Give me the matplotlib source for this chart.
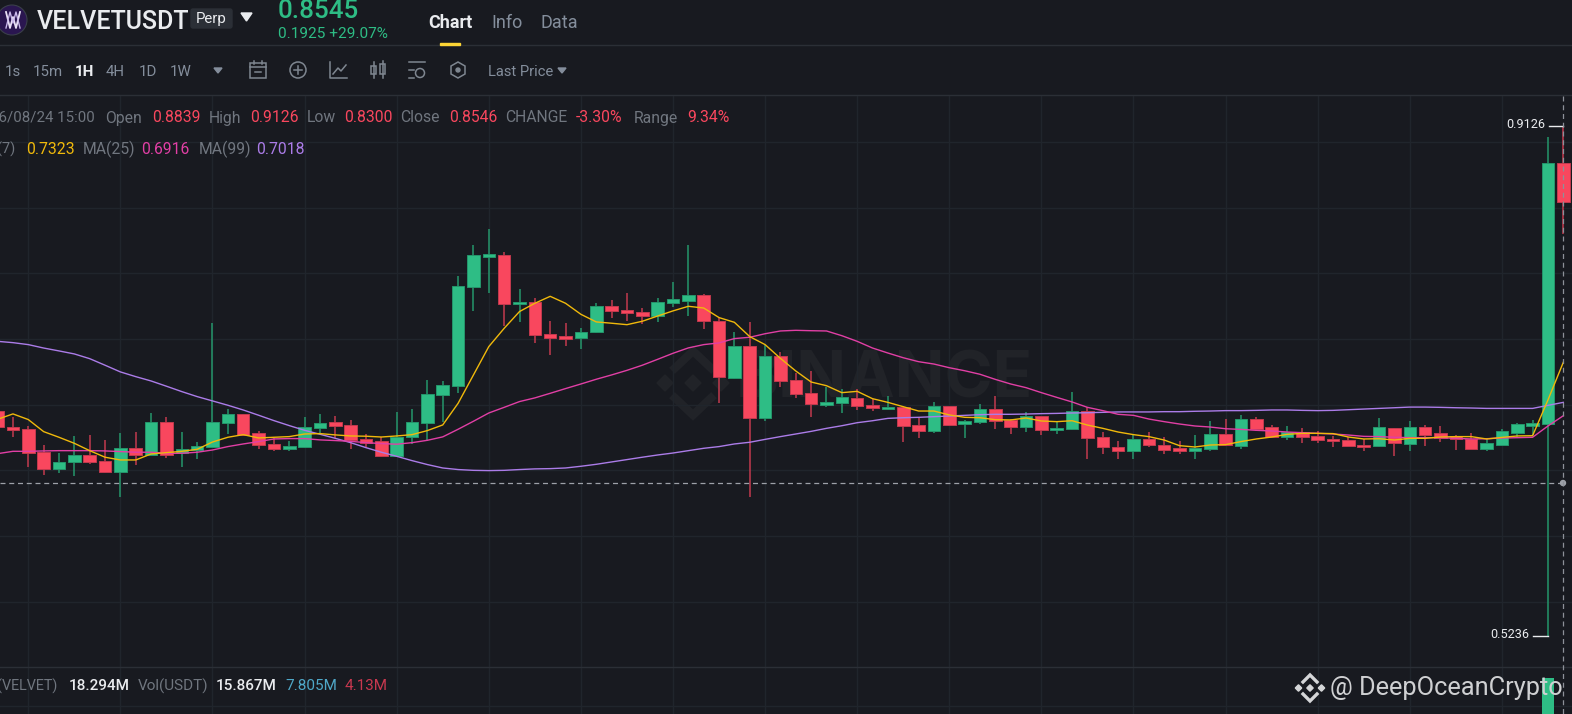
import matplotlib
matplotlib.use("Agg")
import matplotlib.pyplot as plt
import numpy as np
from matplotlib.patches import Circle, FancyBboxPatch, Polygon, Rectangle

plt.rcParams['font.family'] = ['Roboto', 'DejaVu Sans']

# candles (1H, oldest on the left)
directions = ("ddddrrddrd" "rdrrrrdddr" "rrddddrrrr" "rrrdrdddrr" "dddrrrddrd"
              "rdddrrddrd" "drdrrddrdr" "rdddrdddrr" "drddrddddd" "rdrddddrrr" "rrd")
highs = [0.6975, 0.6909, 0.6838, 0.6691, 0.6634, 0.6762, 0.6772, 0.6729, 0.6785, 0.6792,
         0.6937, 0.6904, 0.6790, 0.6716, 0.7620, 0.6965, 0.6927, 0.6802, 0.6744, 0.6721,
         0.6906, 0.6929, 0.6914, 0.6884, 0.6777, 0.6756, 0.6945, 0.6965, 0.7188, 0.7178,
         0.7981, 0.8219, 0.8339, 0.8164, 0.7880, 0.7816, 0.7636, 0.7623, 0.7582, 0.7773,
         0.7798, 0.7851, 0.7735, 0.7816, 0.7935, 0.8217, 0.7841, 0.7659, 0.7552, 0.7628,
         0.7453, 0.7404, 0.7244, 0.7257, 0.7137, 0.7117, 0.7117, 0.7041, 0.7066, 0.6990,
         0.6901, 0.7018, 0.6990, 0.6884, 0.7008, 0.7066, 0.6894, 0.6942, 0.6914, 0.6868,
         0.7095, 0.6980, 0.6790, 0.6724, 0.6767, 0.6795, 0.6752, 0.6721, 0.6767, 0.6876,
         0.6889, 0.6919, 0.6906, 0.6848, 0.6838, 0.6823, 0.6797, 0.6762, 0.6756, 0.6739,
         0.6899, 0.6823, 0.6876, 0.6846, 0.6838, 0.6772, 0.6782, 0.6739, 0.6817, 0.6858,
         0.6884, 0.9040, 0.9126]
body_top = [0.6955, 0.6830, 0.6813, 0.6637, 0.6566, 0.6615, 0.6615, 0.6569, 0.6668, 0.6668,
            0.6871, 0.6871, 0.6660, 0.6685, 0.6868, 0.6927, 0.6927, 0.6782, 0.6701, 0.6688,
            0.6830, 0.6863, 0.6868, 0.6846, 0.6737, 0.6721, 0.6756, 0.6871, 0.7082, 0.7150,
            0.7907, 0.8139, 0.8149, 0.8141, 0.7785, 0.7783, 0.7537, 0.7521, 0.7556, 0.7752,
            0.7752, 0.7720, 0.7707, 0.7783, 0.7803, 0.7834, 0.7834, 0.7638, 0.7447, 0.7447,
            0.7371, 0.7369, 0.7188, 0.7092, 0.7023, 0.7057, 0.7054, 0.7000, 0.6983, 0.6983,
            0.6848, 0.6990, 0.6988, 0.6876, 0.6965, 0.6965, 0.6881, 0.6912, 0.6912, 0.6825,
            0.6950, 0.6950, 0.6756, 0.6680, 0.6737, 0.6739, 0.6695, 0.6668, 0.6670, 0.6779,
            0.6777, 0.6894, 0.6894, 0.6828, 0.6795, 0.6792, 0.6762, 0.6741, 0.6731, 0.6695,
            0.6828, 0.6823, 0.6833, 0.6830, 0.6782, 0.6759, 0.6739, 0.6708, 0.6797, 0.6855,
            0.6858, 0.8839, 0.8839]
body_bot = [0.6828, 0.6805, 0.6630, 0.6513, 0.6513, 0.6561, 0.6561, 0.6485, 0.6485, 0.6619,
            0.6619, 0.6619, 0.6630, 0.6655, 0.6680, 0.6861, 0.6772, 0.6695, 0.6665, 0.6665,
            0.6680, 0.6825, 0.6836, 0.6729, 0.6708, 0.6607, 0.6609, 0.6752, 0.6863, 0.7074,
            0.7145, 0.7897, 0.8128, 0.7768, 0.7765, 0.7534, 0.7511, 0.7501, 0.7511, 0.7552,
            0.7712, 0.7699, 0.7676, 0.7674, 0.7777, 0.7790, 0.7636, 0.7209, 0.7206, 0.6896,
            0.6899, 0.7181, 0.7082, 0.7003, 0.7000, 0.7013, 0.6990, 0.6973, 0.6965, 0.6840,
            0.6797, 0.6797, 0.6848, 0.6853, 0.6871, 0.6874, 0.6828, 0.6828, 0.6810, 0.6805,
            0.6813, 0.6749, 0.6676, 0.6647, 0.6647, 0.6693, 0.6655, 0.6647, 0.6650, 0.6663,
            0.6691, 0.6688, 0.6817, 0.6754, 0.6754, 0.6752, 0.6729, 0.6724, 0.6688, 0.6678,
            0.6683, 0.6708, 0.6703, 0.6769, 0.6749, 0.6739, 0.6663, 0.6665, 0.6695, 0.6784,
            0.6840, 0.6853, 0.8546]
lows = [0.6807, 0.6756, 0.6528, 0.6467, 0.6482, 0.6459, 0.6551, 0.6482, 0.6294, 0.6543,
        0.6617, 0.6592, 0.6528, 0.6586, 0.6678, 0.6777, 0.6769, 0.6665, 0.6650, 0.6650,
        0.6673, 0.6782, 0.6744, 0.6665, 0.6676, 0.6604, 0.6609, 0.6698, 0.6726, 0.6866,
        0.7092, 0.7717, 0.7854, 0.7600, 0.7633, 0.7468, 0.7377, 0.7447, 0.7427, 0.7544,
        0.7663, 0.7636, 0.7615, 0.7633, 0.7747, 0.7674, 0.7579, 0.7013, 0.7198, 0.6299,
        0.6878, 0.7133, 0.7054, 0.6904, 0.6983, 0.6937, 0.6960, 0.6952, 0.6960, 0.6714,
        0.6746, 0.6785, 0.6838, 0.6744, 0.6855, 0.6815, 0.6779, 0.6795, 0.6772, 0.6779,
        0.6810, 0.6584, 0.6622, 0.6584, 0.6589, 0.6676, 0.6627, 0.6625, 0.6589, 0.6650,
        0.6688, 0.6665, 0.6802, 0.6752, 0.6731, 0.6711, 0.6711, 0.6680, 0.6683, 0.6650,
        0.6680, 0.6607, 0.6650, 0.6688, 0.6718, 0.6655, 0.6660, 0.6650, 0.6688, 0.6756,
        0.6769, 0.5236, 0.8300]

# moving averages at the same candles
ma7 = [0.6889, 0.6930, 0.6887, 0.6795, 0.6752, 0.6706, 0.6650, 0.6600, 0.6579, 0.6579,
       0.6625, 0.6635, 0.6645, 0.6660, 0.6716, 0.6752, 0.6772, 0.6747, 0.6752, 0.6757,
       0.6777, 0.6780, 0.6770, 0.6762, 0.6760, 0.6754, 0.6762, 0.6772, 0.6803, 0.6846,
       0.7011, 0.7227, 0.7443, 0.7582, 0.7710, 0.7773, 0.7826, 0.7773, 0.7689, 0.7631,
       0.7621, 0.7610, 0.7636, 0.7676, 0.7715, 0.7750, 0.7737, 0.7664, 0.7628, 0.7519,
       0.7458, 0.7353, 0.7257, 0.7173, 0.7145, 0.7092, 0.7102, 0.7046, 0.7018, 0.6985,
       0.6952, 0.6952, 0.6922, 0.6904, 0.6901, 0.6886, 0.6884, 0.6899, 0.6876, 0.6871,
       0.6878, 0.6845, 0.6820, 0.6792, 0.6772, 0.6757, 0.6731, 0.6688, 0.6678, 0.6693,
       0.6696, 0.6719, 0.6739, 0.6754, 0.6774, 0.6782, 0.6782, 0.6780, 0.6754, 0.6739,
       0.6741, 0.6731, 0.6744, 0.6744, 0.6754, 0.6757, 0.6757, 0.6739, 0.6751, 0.6762,
       0.6764, 0.7036, 0.7323]
ma25 = [0.6627, 0.6645, 0.6645, 0.6648, 0.6650, 0.6650, 0.6650, 0.6648, 0.6643, 0.6638,
        0.6638, 0.6630, 0.6630, 0.6638, 0.6655, 0.6681, 0.6701, 0.6719, 0.6739, 0.6742,
        0.6742, 0.6732, 0.6727, 0.6721, 0.6711, 0.6704, 0.6699, 0.6711, 0.6729, 0.6755,
        0.6813, 0.6874, 0.6937, 0.6980, 0.7024, 0.7052, 0.7087, 0.7123, 0.7158, 0.7194,
        0.7227, 0.7262, 0.7301, 0.7346, 0.7392, 0.7433, 0.7458, 0.7471, 0.7504, 0.7514,
        0.7541, 0.7562, 0.7567, 0.7564, 0.7562, 0.7526, 0.7483, 0.7432, 0.7394, 0.7358,
        0.7328, 0.7310, 0.7282, 0.7259, 0.7232, 0.7193, 0.7158, 0.7130, 0.7092, 0.7056,
        0.7021, 0.6980, 0.6955, 0.6927, 0.6919, 0.6891, 0.6871, 0.6853, 0.6838, 0.6830,
        0.6817, 0.6812, 0.6805, 0.6800, 0.6792, 0.6787, 0.6782, 0.6777, 0.6769, 0.6759,
        0.6757, 0.6752, 0.6749, 0.6749, 0.6749, 0.6744, 0.6739, 0.6741, 0.6746, 0.6749,
        0.6752, 0.6838, 0.6916]
ma99 = [0.7483, 0.7473, 0.7458, 0.7432, 0.7410, 0.7387, 0.7351, 0.7301, 0.7250, 0.7214,
        0.7181, 0.7141, 0.7100, 0.7062, 0.7029, 0.6996, 0.6960, 0.6920, 0.6879, 0.6841,
        0.6805, 0.6775, 0.6744, 0.6711, 0.6673, 0.6638, 0.6607, 0.6574, 0.6544, 0.6518,
        0.6506, 0.6500, 0.6498, 0.6500, 0.6506, 0.6511, 0.6513, 0.6518, 0.6531, 0.6546,
        0.6564, 0.6582, 0.6600, 0.6617, 0.6632, 0.6650, 0.6668, 0.6681, 0.6701, 0.6714,
        0.6736, 0.6757, 0.6777, 0.6797, 0.6820, 0.6840, 0.6863, 0.6878, 0.6896, 0.6901,
        0.6904, 0.6909, 0.6914, 0.6919, 0.6924, 0.6927, 0.6927, 0.6929, 0.6932, 0.6934,
        0.6937, 0.6939, 0.6942, 0.6945, 0.6945, 0.6945, 0.6947, 0.6947, 0.6950, 0.6952,
        0.6955, 0.6955, 0.6957, 0.6960, 0.6960, 0.6957, 0.6955, 0.6957, 0.6962, 0.6967,
        0.6972, 0.6977, 0.6982, 0.6982, 0.6980, 0.6977, 0.6975, 0.6972, 0.6972, 0.6972,
        0.6972, 0.6995, 0.7018]

price_ticks = [0.55, 0.60, 0.65, 0.70, 0.75, 0.80, 0.85, 0.90]
vol_index = [101, 102]
vol_values = [67.0, 18.294]

BG = '#181a20'
GRID = '#20252c'
EDGE = '#2b2f36'
GREEN = '#2ebd85'
RED = '#f9475e'
GREY = '#70767f'
WHITE = '#eaecef'
YELLOW = '#f0b90b'
PINK = '#e13fa5'
PURPLE = '#ab7ce8'
WM = '#212328'

W, H = 1572, 714
fig = plt.figure(figsize=(W / 100, H / 100), dpi=100, facecolor=BG)

n = len(highs)
idx = np.arange(n)
highs, lows = np.array(highs), np.array(lows)
body_top, body_bot = np.array(body_top), np.array(body_bot)
up = np.array([c == 'r' for c in directions])

# x runs at 15.35 px per candle, the first candle sits just off the left edge
xlim = (2.4 / 15.35, (W + 2.4) / 15.35)
grid_x = idx[2::6]


def style_axes(ax):
    ax.set_facecolor('none')
    ax.set_xlim(*xlim)
    ax.tick_params(length=0, labelleft=False, labelbottom=False)
    ax.set_xticks(grid_x)
    ax.grid(True, color=GRID, lw=1.0, zorder=0)
    ax.set_axisbelow(True)
    for s in ax.spines.values():
        s.set_visible(False)


def pixel_axes(zorder):
    a = fig.add_axes([0, 0, 1, 1], facecolor='none', zorder=zorder)
    a.set_xlim(0, W)
    a.set_ylim(H, 0)
    a.axis('off')
    return a


# exchange watermark sits behind the candles
back = pixel_axes(0)
back.text(736, 381, 'BINANCE', color=WM, fontsize=47, fontweight='bold', family='Inter',
          ha='left', va='center')
for cx, cy, r in [(665, 383, 8), (721, 383, 8), (693, 383, 8)]:
    back.add_patch(Polygon([(cx - r, cy), (cx, cy - r), (cx + r, cy), (cx, cy + r)], color=WM))
back.plot([675, 693, 711], [368, 351, 368], color=WM, lw=6, solid_joinstyle='miter')
back.plot([675, 693, 711], [398, 415, 398], color=WM, lw=6, solid_joinstyle='miter')

# price panel, y 95 to 667 px
ax = fig.add_axes([0, (H - 667) / H, 1, (667 - 95) / H], zorder=1)
style_axes(ax)
ax.set_ylim(1.0084 - 0.000762 * 667, 1.0084 - 0.000762 * 95)
ax.set_yticks(price_ticks)

colors = np.where(up, GREEN, RED)
edges = np.where(up, '#25966b', '#c23a4e')
ax.vlines(idx, lows, highs, colors=edges, lw=1.1, zorder=2)
ax.bar(idx, body_top - body_bot, bottom=body_bot, width=0.82, color=colors,
       edgecolor=edges, linewidth=0.7, zorder=3)

ax.plot(idx, ma99, color=PURPLE, lw=1.0, zorder=4)
ax.plot(idx, ma25, color=PINK, lw=1.0, zorder=5)
ax.plot(idx, ma7, color=YELLOW, lw=1.0, zorder=6)

# volume panel, only the top of the last bars is in frame
vax = fig.add_axes([0, 0, 1, (H - 668) / H], zorder=1)
style_axes(vax)
vax.set_ylim(20, 80)
vax.set_yticks([30])
vax.bar(vol_index, vol_values, width=0.82, color=GREEN, zorder=3)

# overlay in pixel coordinates for the page chrome
ov = pixel_axes(2)


def label(x, y, s, color=GREY, size=15.7, ha='left', weight='normal', **kw):
    ov.text(x, y, s, color=color, fontsize=size * 0.72, ha=ha, va='center',
            fontweight=weight, **kw)


for y in (45, 95, 667):
    ov.plot([0, W], [y, y], color=EDGE, lw=1.0)

# header
ov.add_patch(Circle((12, 20), 15, facecolor='#2a1650', edgecolor='#3a3f4a', lw=0.8))
ov.plot([6, 10, 13, 16, 20], [12, 28, 17, 28, 12], color='#e8e0f5', lw=1.3)
ov.plot([6, 10, 13, 16, 20], [28, 12, 23, 12, 28], color='#c9b8ea', lw=1.0)
label(37, 22, 'VELVETUSDT', color=WHITE, size=25, weight='medium')
ov.add_patch(FancyBboxPatch((191, 9), 41, 19, boxstyle='round,pad=0,rounding_size=2',
                            color=EDGE))
label(211.5, 18.5, 'Perp', color=WHITE, size=15, ha='center')
ov.add_patch(Polygon([(241, 13), (252, 13), (246.5, 21)], color=WHITE))
label(278, 11, '0.8545', color=GREEN, size=26, weight='medium')
label(278, 34.5, '0.1925 +29.07%', color=GREEN, size=15.4)
label(428, 23, 'Chart', color=WHITE, size=18, weight='bold')
label(491, 23, 'Info', color='#848e9c', size=18)
label(540, 23, 'Data', color='#848e9c', size=18)
ov.add_patch(Rectangle((440, 42.5), 20, 2.8, color='#fcd535', zorder=5))

# toolbar
for x, s in [(5, '1s'), (33, '15m'), (106, '4H'), (139, '1D'), (170, '1W')]:
    label(x, 72, s, color='#848e9c', size=15)
label(75, 72, '1H', color=WHITE, size=15, weight='bold')
label(488, 72, 'Last Price', color='#848e9c', size=14.8)
for x in (218, 562):
    ov.add_patch(Polygon([(x - 4, 68), (x + 4, 68), (x, 73)], color='#848e9c'))
ICON = '#7f8791'
ov.add_patch(Rectangle((250, 63), 16, 15, fill=False, ec=ICON, lw=1.1))
ov.plot([250, 266], [67, 67], color=ICON, lw=1.1)
ov.plot([254, 254], [61, 64], color=ICON, lw=1.1)
ov.plot([262, 262], [61, 64], color=ICON, lw=1.1)
ov.plot([255, 261], [72, 72], color=ICON, lw=1.1)
ov.add_patch(Circle((298, 70), 8, fill=False, ec=ICON, lw=1.1))
ov.plot([294, 302], [70, 70], color=ICON, lw=1.1)
ov.plot([298, 298], [66, 74], color=ICON, lw=1.1)
ov.plot([330, 330, 347], [62, 78, 78], color=ICON, lw=1.1)
ov.plot([333, 338, 341, 346], [74, 68, 71, 65], color=ICON, lw=1.1)
ov.add_patch(Rectangle((371, 66), 5, 8, fill=False, ec=ICON, lw=1.1))
ov.add_patch(Rectangle((380, 64), 5, 10, fill=False, ec=ICON, lw=1.1))
ov.plot([373.5, 373.5], [62, 78], color=ICON, lw=1.1)
ov.plot([382.5, 382.5], [61, 78], color=ICON, lw=1.1)
ov.plot([409, 425], [62, 62], color=ICON, lw=1.1)
ov.plot([409, 414], [70, 70], color=ICON, lw=1.1)
ov.plot([409, 414], [78, 78], color=ICON, lw=1.1)
ov.add_patch(Circle((420, 73), 4.5, fill=False, ec=ICON, lw=1.1))
ov.add_patch(Polygon([(458, 62), (465, 66), (465, 74), (458, 78), (451, 74), (451, 66)],
                     fill=False, ec=ICON, lw=1.1))
ov.add_patch(Circle((458, 70), 2, color=ICON))

# candle readout row, the date runs off the left edge as in the screenshot
label(95, 118, '26/08/24 15:00', ha='right', size=15)
for x, s, c in [(105, 'Open', GREY), (152, '0.8839', RED), (209, 'High', GREY),
                (250, '0.9126', RED), (307, 'Low', GREY), (344, '0.8300', RED),
                (400, 'Close', GREY), (449, '0.8546', RED), (505, 'CHANGE', GREY),
                (576, '-3.30%', RED), (634, 'Range', GREY), (687, '9.34%', RED)]:
    label(x, 118, s, color=c)

# moving average row
label(15.5, 149.5, '(7)', ha='right', size=14.5)
for x, s, c in [(26, '0.7323', YELLOW), (83, 'MA(25)', GREY), (141, '0.6916', PINK),
                (199, 'MA(99)', GREY), (256, '0.7018', PURPLE)]:
    label(x, 149.5, s, color=c)

# volume row
label(57, 686, '(VELVET)', ha='right', size=14.4)
for x, s, c, w in [(69, '18.294M', WHITE, 'medium'), (138, 'Vol(USDT)', GREY, 'normal'),
                   (216, '15.867M', WHITE, 'medium'), (285, '7.805M', '#4fa8c8', 'normal'),
                   (345, '4.13M', '#c9384f', 'normal')]:
    label(x, 686, s, color=c, weight=w, size=15.3)

# high and low callouts
label(1545, 124.5, '0.9126', color=WHITE, size=12.6, ha='right')
ov.plot([1549, 1563], [125.7, 125.7], color=WHITE, lw=1.0)
label(1529, 635, '0.5236', color=WHITE, size=12.6, ha='right')
ov.plot([1533, 1548], [636, 636], color=WHITE, lw=1.0)

# crosshair
ov.plot([0, 1563], [483, 483], color='#9da1a8', lw=0.9, dashes=(4, 3))
ov.plot([1563, 1563], [96, H], color='#8d9199', lw=0.9, dashes=(4, 3))
ov.add_patch(Circle((1563, 483), 2.5, color='#9da1a8'))

# reposter watermark
label(1330, 688, '@ DeepOceanCrypto', color='#cfd0d2', size=25.4)
LOGO = '#d5d6d8'
for cx, cy, r in [(1310, 688, 3.2), (1298.5, 688, 3.2), (1321.5, 688, 3.2)]:
    ov.add_patch(Polygon([(cx - r, cy), (cx, cy - r), (cx + r, cy), (cx, cy + r)], color=LOGO))
ov.plot([1303, 1310, 1317], [682, 675, 682], color=LOGO, lw=2.4, solid_joinstyle='miter')
ov.plot([1303, 1310, 1317], [694, 701, 694], color=LOGO, lw=2.4, solid_joinstyle='miter')

fig.savefig('out.png', dpi=100, facecolor=BG)
